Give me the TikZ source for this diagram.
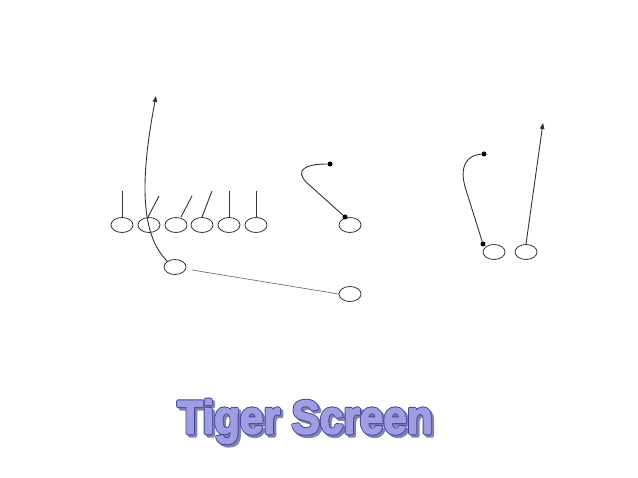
\documentclass[tikz,border=0pt]{standalone}
\usepackage{fontspec}
\setmainfont{Liberation Sans}
\usetikzlibrary{arrows.meta,shapes.geometric}
\definecolor{tfill}{RGB}{158,158,226}
\definecolor{tline}{RGB}{66,66,160}
\definecolor{tshadow}{RGB}{130,130,175}
\newcommand{\ttxt}{\fontsize{47}{47}\selectfont\bfseries Tiger Screen}
% #1 stroke width, #2 stroke colour (r g b in 0..1), #3 text
\newcommand{\strk}[3]{\special{pdf:code 2 Tr 1 j #1 w #2 RG}#3\special{pdf:code 0 Tr}}
\begin{document}
\begin{tikzpicture}[x=1pt,y=-1pt,
  player/.style={draw=black!80,line width=0.8pt,ellipse,minimum width=22pt,minimum height=15pt,inner sep=0pt},
  route/.style={draw=black!80,line width=0.9pt},
  arr/.style={route,-{Triangle[length=6pt,width=4.5pt]}},
  dotc/.style={circle,fill=black,inner sep=0pt,minimum size=5pt}]
\useasboundingbox (0,0) rectangle (638,478);
% line
\node[player] (L1) at (122,225) {};
\node[player] (L2) at (149,225) {};
\node[player] (L3) at (176,225) {};
\node[player] (L4) at (202,225) {};
\node[player] (L5) at (229,225) {};
\node[player] (L6) at (256,225) {};
\node[player] (QB) at (175,267) {};
\node[player] (C) at (350,225) {};
\node[player] (RB) at (350,294) {};
\node[player] (W1) at (494,252) {};
\node[player] (W2) at (526,252) {};
% blocks
\coordinate (b1) at (122,191); \draw[route] (L1.north) -- (b1);
\coordinate (b2) at (159,196); \draw[route] (148,217) -- (b2);
\coordinate (b3) at (192,196); \draw[route] (181,217) -- (b3);
\coordinate (b4) at (212,191); \draw[route] (202,217) -- (b4);
\coordinate (b5) at (229,191); \draw[route] (L5.north) -- (b5);
\coordinate (b6) at (256,191); \draw[route] (L6.north) -- (b6);
% QB route
\coordinate (q1) at (156,96);
\draw[arr] (168,262) .. controls (140,235) and (140,180) .. (q1);
% screen line
\draw[draw=black!55,line width=0.7pt] (192,270) -- (RB.west);
% center route
\node[dotc] (cd1) at (345,217) {};
\node[dotc] (cd2) at (330,164) {};
\draw[route] (cd1) -- (306,182) .. controls (295,170) and (305,164) .. (cd2);
% right routes
\node[dotc] (rd1) at (483,244) {};
\node[dotc] (rd2) at (484,154) {};
\draw[route] (rd1) -- (466,190) .. controls (458,165) and (468,155) .. (rd2);
\coordinate (w2t) at (543,123);
\draw[arr] (526,244) -- (w2t);
% title
\node[text=tshadow,anchor=base] (tshad) at (307.5,436) {\scalebox{0.9}[1]{\strk{3.4}{0.51 0.51 0.686}{\ttxt}}};
\node[text=tline,anchor=base] (tout) at (305,433.5) {\scalebox{0.9}[1]{\strk{3.6}{0.26 0.26 0.627}{\ttxt}}};
\node[text=tfill,anchor=base] (title) at (305,433.5) {\scalebox{0.9}[1]{\strk{1.7}{0.62 0.62 0.886}{\ttxt}}};
\end{tikzpicture}
\end{document}
